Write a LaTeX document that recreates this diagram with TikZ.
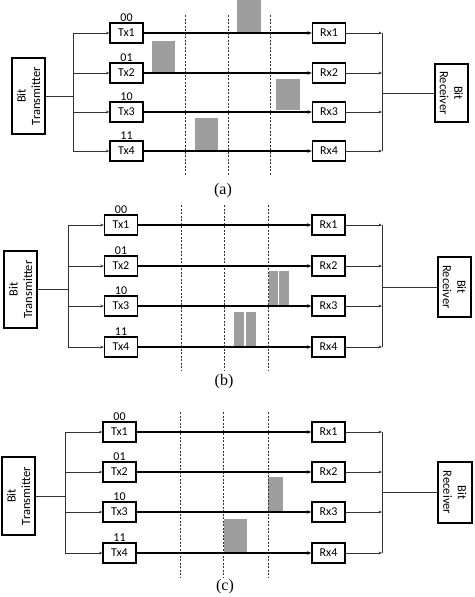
\documentclass[tikz,border=0pt]{standalone}
\usepackage{fontspec}
\setmainfont{Liberation Serif}
\newfontfamily\boxfont{Carlito}
\usetikzlibrary{arrows.meta}
\tikzset{
  box/.style={draw, line width=1.3pt, minimum width=33pt, minimum height=20pt, inner sep=0pt, font=\boxfont\fontsize{12}{13}\selectfont},
  bigbox/.style={draw, line width=1.3pt, inner sep=0pt, align=center, font=\boxfont\fontsize{12.5}{14.5}\selectfont},
  bitlabel/.style={inner sep=0pt, font=\boxfont\fontsize{12}{13}\selectfont},
  bus/.style={line width=0.8pt, black!80},
  sig/.style={line width=1.2pt, -{Stealth[length=4.5pt,width=3.5pt]}},
  feed/.style={line width=0.8pt, black!80, -{Stealth[length=3.5pt,width=2.8pt]}},
  divider/.style={line width=0.8pt, black!80, dash pattern=on 2pt off 1.5pt},
  pulse/.style={fill=black!38, draw=none},
  captext/.style={inner sep=0pt, font=\fontsize{16}{17}\selectfont}
}
\begin{document}
\begin{tikzpicture}[x=1pt, y=-1pt]
\useasboundingbox (0,0) rectangle (474,597);

% ================= panel (a) =================
\fill[pulse] (237,0) rectangle (261,32);
\fill[pulse] (152,41) rectangle (175,72);
\fill[pulse] (276,79) rectangle (300,110);
\fill[pulse] (195,118) rectangle (218,150);
\foreach \x in {185,228,270} \draw[divider] (\x,15) -- (\x,175);
\node[bigbox, rotate=90, minimum width=76pt, minimum height=33pt] (a-tr) at (28.5,96) {Bit\\Transmitter};
\node[bigbox, rotate=-90, minimum width=58pt, minimum height=33pt] (a-rc) at (451.5,93) {Bit\\Receiver};
\foreach \i/\r/\b in {1/33/00,2/73/01,3/112/10,4/151/11}{
  \node[box] (a-tx\i) at (126.5,\r) {Tx\i};
  \node[bitlabel] (a-lb\i) at (126.5,\r-15.5) {\b};
  \node[box] (a-rx\i) at (329,\r) {Rx\i};
  \coordinate (a-bl\i) at (73,\r);
  \coordinate (a-br\i) at (382,\r);
  \draw[feed] (a-bl\i) -- (a-tx\i.west);
  \draw[sig] (a-tx\i.east) -- (a-rx\i.west);
  \draw[feed] (a-rx\i.east) -- (a-br\i);
}
\draw[bus] (a-bl1) -- (a-bl4);
\draw[bus] (a-br1) -- (a-br4);
\draw[bus] (a-tr.south) -- (a-tr.south -| a-bl1);
\draw[bus] (a-rc.south) -- (a-rc.south -| a-br1);
\node[captext] (a-cap) at (223,191) {(a)};

% ================= panel (b) =================
\fill[pulse] (269,271) rectangle (278,305);
\fill[pulse] (279,271) rectangle (289,305);
\fill[pulse] (234,312) rectangle (244,346);
\fill[pulse] (246,312) rectangle (256,346);
\foreach \x in {181,224,268} \draw[divider] (\x,205) -- (\x,370);
\node[bigbox, rotate=90, minimum width=77pt, minimum height=33pt] (b-tr) at (20.5,289.5) {Bit\\Transmitter};
\node[bigbox, rotate=-90, minimum width=60pt, minimum height=33pt] (b-rc) at (454.5,287) {Bit\\Receiver};
\foreach \i/\r/\b in {1/225/00,2/266/01,3/306/10,4/347/11}{
  \node[box] (b-tx\i) at (121,\r) {Tx\i};
  \node[bitlabel] (b-lb\i) at (121,\r-15.5) {\b};
  \node[box] (b-rx\i) at (328.5,\r) {Rx\i};
  \coordinate (b-bl\i) at (68,\r);
  \coordinate (b-br\i) at (382,\r);
  \draw[feed] (b-bl\i) -- (b-tx\i.west);
  \draw[sig] (b-tx\i.east) -- (b-rx\i.west);
  \draw[feed] (b-rx\i.east) -- (b-br\i);
}
\draw[bus] (b-bl1) -- (b-bl4);
\draw[bus] (b-br1) -- (b-br4);
\draw[bus] (b-tr.south) -- (b-tr.south -| b-bl1);
\draw[bus] (b-rc.south) -- (b-rc.south -| b-br1);
\node[captext] (b-cap) at (224,382) {(b)};

% ================= panel (c) =================
\fill[pulse] (268,477) rectangle (283,511);
\fill[pulse] (224,519) rectangle (247,552);
\foreach \x in {180,223,268} \draw[divider] (\x,412) -- (\x,578);
\node[bigbox, rotate=90, minimum width=78pt, minimum height=33pt] (c-tr) at (18.5,496) {Bit\\Transmitter};
\node[bigbox, rotate=-90, minimum width=61pt, minimum height=34pt] (c-rc) at (455,492.5) {Bit\\Receiver};
\foreach \i/\r/\b in {1/432/00,2/472/01,3/512/10,4/553/11}{
  \node[box] (c-tx\i) at (119.5,\r) {Tx\i};
  \node[bitlabel] (c-lb\i) at (119.5,\r-15.5) {\b};
  \node[box] (c-rx\i) at (328.5,\r) {Rx\i};
  \coordinate (c-bl\i) at (65,\r);
  \coordinate (c-br\i) at (382,\r);
  \draw[feed] (c-bl\i) -- (c-tx\i.west);
  \draw[sig] (c-tx\i.east) -- (c-rx\i.west);
  \draw[feed] (c-rx\i.east) -- (c-br\i);
}
\draw[bus] (c-bl1) -- (c-bl4);
\draw[bus] (c-br1) -- (c-br4);
\draw[bus] (c-tr.south) -- (c-tr.south -| c-bl1);
\draw[bus] (c-rc.south) -- (c-rc.south -| c-br1);
\node[captext] (c-cap) at (225,587) {(c)};
\end{tikzpicture}
\end{document}
